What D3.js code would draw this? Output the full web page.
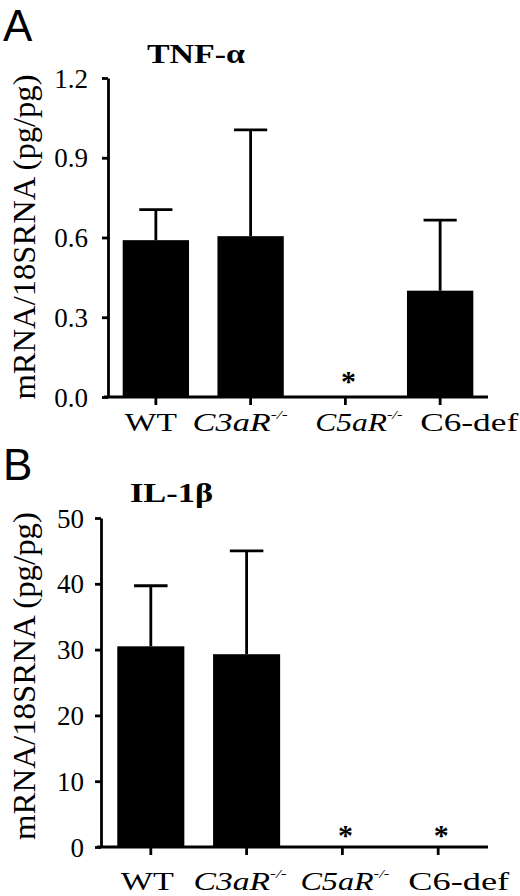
<!DOCTYPE html>
<html>
<head>
<meta charset="utf-8">
<script src="https://cdn.jsdelivr.net/npm/d3@7"></script>
<style>
  html, body { margin: 0; padding: 0; background: #fff; }
  svg { display: block; }
</style>
</head>
<body>
<svg id="chart" width="520" height="896"></svg>
<script>
// ---- data ----
const categories = ["WT", "C3aR", "C5aR", "C6-def"];
const categoryLabels = [
  { main: "WT", italic: false, sup: "" },
  { main: "C3aR", italic: true, sup: "-/-" },
  { main: "C5aR", italic: true, sup: "-/-" },
  { main: "C6-def", italic: false, sup: "" }
];
const tnfMean = [0.59, 0.605, 0, 0.40];
const tnfErr  = [0.115, 0.40, 0, 0.265];
const tnfSig  = [false, false, true, false];
const tnfTicks = [0, 0.3, 0.6, 0.9, 1.2];

const il1bMean = [30.5, 29.3, 0, 0];
const il1bErr  = [9.2, 15.7, 0, 0];
const il1bSig  = [false, false, true, true];
const il1bTicks = [0, 10, 20, 30, 40, 50];

const yLabel = "mRNA/18SRNA (pg/pg)";

// ---- layout ----
const panels = [
  { letter: "A", title: "TNF-α", mean: tnfMean, err: tnfErr, sig: tnfSig, ticks: tnfTicks,
    fmt: d3.format(".1f"), ymax: 1.2,
    axisX: 108, xEnd: 488, y0: 397, y1: 78, padOuter: 0.155,
    letterY: 41, titleX: 147, titleY: 63, titleLen: 98,
    tickLabelX: 88, ylabelCenter: 237, ylabelLen: 325,
    xLabelY: 431, xLabelDx: [-31, -58, -30, -20], xLabelLen: [52, 95, 87, 98],
    starY: 391 },
  { letter: "B", title: "IL-1β", mean: il1bMean, err: il1bErr, sig: il1bSig, ticks: il1bTicks,
    fmt: d3.format("d"), ymax: 50,
    axisX: 101, xEnd: 488, y0: 847, y1: 518, padOuter: 0.17,
    letterY: 480, titleX: 130, titleY: 502, titleLen: 83,
    tickLabelX: 84, ylabelCenter: 676, ylabelLen: 328,
    xLabelY: 890, xLabelDx: [-30, -53, -42, -30], xLabelLen: [53, 93, 89, 101],
    starY: 845 }
];

const svg = d3.select("#chart");
const serif = "'Liberation Serif', 'Times New Roman', serif";
const sans = "'Liberation Sans', Arial, sans-serif";
const lw = 2.8;

panels.forEach(p => {
  const g = svg.append("g");
  const x = d3.scaleBand().domain(categories).range([p.axisX, p.xEnd])
    .paddingInner(0.3).paddingOuter(p.padOuter);
  const y = d3.scaleLinear().domain([0, p.ymax]).range([p.y0, p.y1]);

  // panel letter
  g.append("text").attr("x", 3).attr("y", p.letterY)
    .attr("font-family", sans).attr("font-size", 44).attr("fill", "#000")
    .text(p.letter);

  // title
  g.append("text").attr("x", p.titleX).attr("y", p.titleY)
    .attr("font-family", serif).attr("font-weight", "bold").attr("font-size", 27)
    .attr("textLength", p.titleLen).attr("lengthAdjust", "spacingAndGlyphs")
    .text(p.title);

  // bars
  const data = categories.map((c, i) => ({ c, i, m: p.mean[i], e: p.err[i], s: p.sig[i] }));
  g.selectAll("rect.bar").data(data.filter(d => d.m > 0)).enter().append("rect")
    .attr("class", "bar")
    .attr("x", d => x(d.c)).attr("width", x.bandwidth())
    .attr("y", d => y(d.m)).attr("height", d => y(0) - y(d.m))
    .attr("fill", "#000");

  // error bars
  const eb = g.selectAll("g.err").data(data.filter(d => d.e > 0)).enter().append("g")
    .attr("class", "err").attr("stroke", "#000").attr("stroke-width", lw);
  eb.append("line")
    .attr("x1", d => x(d.c) + x.bandwidth() / 2).attr("x2", d => x(d.c) + x.bandwidth() / 2)
    .attr("y1", d => y(d.m)).attr("y2", d => y(d.m + d.e));
  eb.append("line")
    .attr("x1", d => x(d.c) + x.bandwidth() / 2 - x.bandwidth() / 4)
    .attr("x2", d => x(d.c) + x.bandwidth() / 2 + x.bandwidth() / 4)
    .attr("y1", d => y(d.m + d.e)).attr("y2", d => y(d.m + d.e));

  // significance stars
  g.selectAll("text.star").data(data.filter(d => d.s)).enter().append("text")
    .attr("class", "star")
    .attr("x", d => x(d.c) + x.bandwidth() / 2 + 3).attr("y", p.starY)
    .attr("text-anchor", "middle")
    .attr("font-family", serif).attr("font-weight", "bold").attr("font-size", 30)
    .text("*");

  // y axis
  const yAxis = d3.axisLeft(y).tickValues(p.ticks).tickFormat(p.fmt).tickSize(6).tickSizeOuter(0);
  const ya = g.append("g").attr("transform", `translate(${p.axisX},0)`).call(yAxis)
    .attr("font-family", serif);
  ya.select(".domain").attr("stroke", "#000").attr("stroke-width", lw);
  ya.selectAll(".tick line").attr("stroke", "#000").attr("stroke-width", lw);
  ya.selectAll(".tick text")
    .attr("x", p.tickLabelX - p.axisX)
    .attr("dy", "0.34em")
    .style("font-family", serif).attr("font-size", 27).attr("fill", "#000");

  // x axis
  const xAxis = d3.axisBottom(x).tickSize(8).tickSizeOuter(0).tickFormat("");
  const xa = g.append("g").attr("transform", `translate(0,${y(0)})`).call(xAxis);
  xa.select(".domain").remove();
  xa.selectAll(".tick line").attr("stroke", "#000").attr("stroke-width", lw);
  g.append("line").attr("x1", p.axisX - 4).attr("x2", p.xEnd)
    .attr("y1", y(0)).attr("y2", y(0)).attr("stroke", "#000").attr("stroke-width", lw);

  // x labels
  const xl = g.selectAll("text.xlab").data(categoryLabels).enter().append("text")
    .attr("class", "xlab")
    .attr("x", (d, i) => x(categories[i]) + x.bandwidth() / 2 + p.xLabelDx[i])
    .attr("y", p.xLabelY)
    .attr("font-family", serif).attr("font-size", 25).attr("fill", "#000")
    .attr("textLength", (d, i) => p.xLabelLen[i]).attr("lengthAdjust", "spacingAndGlyphs");
  xl.append("tspan").attr("font-style", d => d.italic ? "italic" : "normal").text(d => d.main);
  xl.filter(d => d.sup).append("tspan")
    .attr("font-size", 13).attr("dy", -12).attr("font-style", "italic").text(d => d.sup);

  // y label
  g.append("text")
    .attr("transform", `translate(35,${p.ylabelCenter}) rotate(-90)`)
    .attr("text-anchor", "middle")
    .attr("font-family", serif).attr("font-size", 32).attr("fill", "#000")
    .attr("textLength", p.ylabelLen).attr("lengthAdjust", "spacingAndGlyphs")
    .text(yLabel);
});
</script>
</body>
</html>
